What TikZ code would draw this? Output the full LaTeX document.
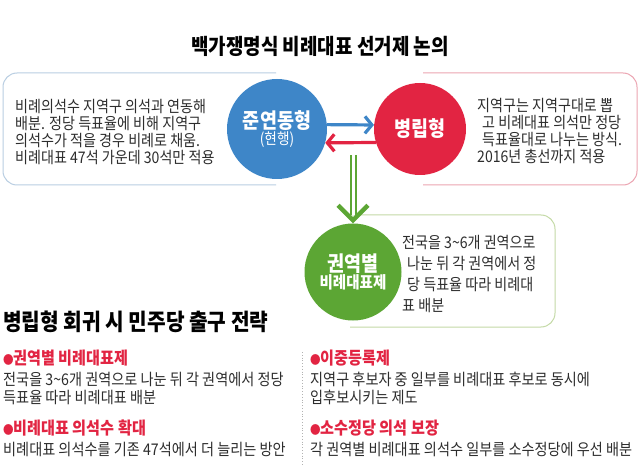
\documentclass[tikz,border=0pt]{standalone}
\usepackage{fontspec}
\setmainfont{Noto Sans CJK KR}[FakeStretch=0.88]
\usetikzlibrary{arrows.meta,positioning}
\definecolor{sky}{RGB}{62,134,200}
\definecolor{rose}{RGB}{226,36,66}
\definecolor{grass}{RGB}{92,166,52}
\definecolor{ink}{RGB}{45,45,45}
\definecolor{skyline}{RGB}{185,206,226}
\definecolor{roseline}{RGB}{236,165,178}
\definecolor{grassline}{RGB}{196,218,166}
\tikzset{
  >={Straight Barb[length=7pt,width=17pt]},
  disc/.style={circle,fill=#1,text=white,inner sep=0pt,align=center},
  frame/.style={draw=#1,line width=1pt,rounded corners=14pt},
  desc/.style={font=\fontsize{16}{17}\selectfont,text=ink,align=left,inner sep=0pt,anchor=west},
  flow/.style={->,line width=3.2pt,draw=#1},
  head/.style={font=\fontsize{17.2}{18}\selectfont\bfseries,text=rose,anchor=west,inner sep=0pt},
  body/.style={font=\fontsize{16.1}{18}\selectfont,text=ink,align=left,inner sep=0pt},
}
\newcommand{\bul}{{\fontsize{12}{12}\selectfont ●}}

\begin{document}
\begin{tikzpicture}[x=1pt,y=-1pt]
  \useasboundingbox (0,0) rectangle (640,473);
  \fill[white] (0,0) rectangle (640,473);
  \node[font=\fontsize{21.6}{22}\selectfont\bfseries] (title) at (320,46) {백가쟁명식 비례대표 선거제 논의};
  % frames behind the circles
  \draw[frame=skyline] (276,73) -- (3,73) -- (3,185) -- (276,185);
  \draw[frame=roseline] (423,73) -- (637,73) -- (637,185) -- (423,185);
  \draw[frame=grassline] (350,215) -- (555,215) -- (555,327) -- (350,327);
  % circles
  \node[disc=sky,minimum size=100pt] (jun) at (277,129)
    {{\fontsize{21}{24}\selectfont\bfseries 준연동형}\\{\fontsize{15.5}{16}\selectfont (현행)}};
  \node[disc=rose,minimum size=92pt,font=\fontsize{21}{22}\selectfont\bfseries] (byeong) at (420,129) {병립형};
  \node[disc=grass,minimum size=97pt] (gwon) at (353,272)
    {{\fontsize{21}{23}\selectfont\bfseries 권역별}\\{\fontsize{16.5}{18}\selectfont\bfseries 비례대표제}};
  % descriptions
  \node[desc] (jundesc) at (15,132) {비례의석수 지역구 의석과 연동해\\배분. 정당 득표율에 비해 지역구\\의석수가 적을 경우 비례로 채움.\\비례대표 47석 가운데 30석만 적용};
  \node[desc] (byeongdesc) at (477,131) {지역구는 지역구대로 뽑\\\hspace*{5pt}고 비례대표 의석만 정당\\\hspace*{5pt}득표율대로 나누는 방식.\\2016년 총선까지 적용};
  \node[desc,font=\fontsize{16}{21}\selectfont] (gwondesc) at (402,274) {전국을 3\textasciitilde6개 권역으로\\\hspace*{5pt}나눈 뒤 각 권역에서 정\\\hspace*{5pt}당 득표율 따라 비례대\\표 배분};
  % arrows
  \draw[flow=sky] (jun.5) -- (byeong.175);
  \draw[flow=rose] (byeong.197) -- (jun.-16);
  \coordinate (split) at (353,155);
  \draw[grass,line width=2pt,double=white,double distance=3pt] (split) -- ([yshift=8pt]gwon.north);
  \draw[grass,line width=4.5pt] ([shift={(-15,-18)}]gwon.north) -- ([yshift=3pt]gwon.north) -- ([shift={(15,-18)}]gwon.north);
  % strategy
  \node[font=\fontsize{23}{23}\selectfont\bfseries,anchor=west,inner sep=0pt] (strat) at (3,322) {병립형 회귀 시 민주당 출구 전략};
  \draw[gray!60,dotted,line width=0.8pt] (302,352) -- (302,465);
  \foreach \x/\y/\h/\b in {
    3/358/권역별 비례대표제/전국을 3\textasciitilde6개 권역으로 나눈 뒤 각 권역에서 정당\\득표율 따라 비례대표 배분,
    3/428/비례대표 의석수 확대/비례대표 의석수를 기존 47석에서 더 늘리는 방안,
    310/358/이중등록제/지역구 후보자 중 일부를 비례대표 후보로 동시에\\입후보시키는 제도,
    310/428/소수정당 의석 보장/각 권역별 비례대표 의석수 일부를 소수정당에 우선 배분}
  {
    \node[head] (h) at (\x,\y) {\bul{}\h};
    \node[body,below=6pt of h.south west,anchor=north west] {\b};
  }
\end{tikzpicture}
\end{document}
